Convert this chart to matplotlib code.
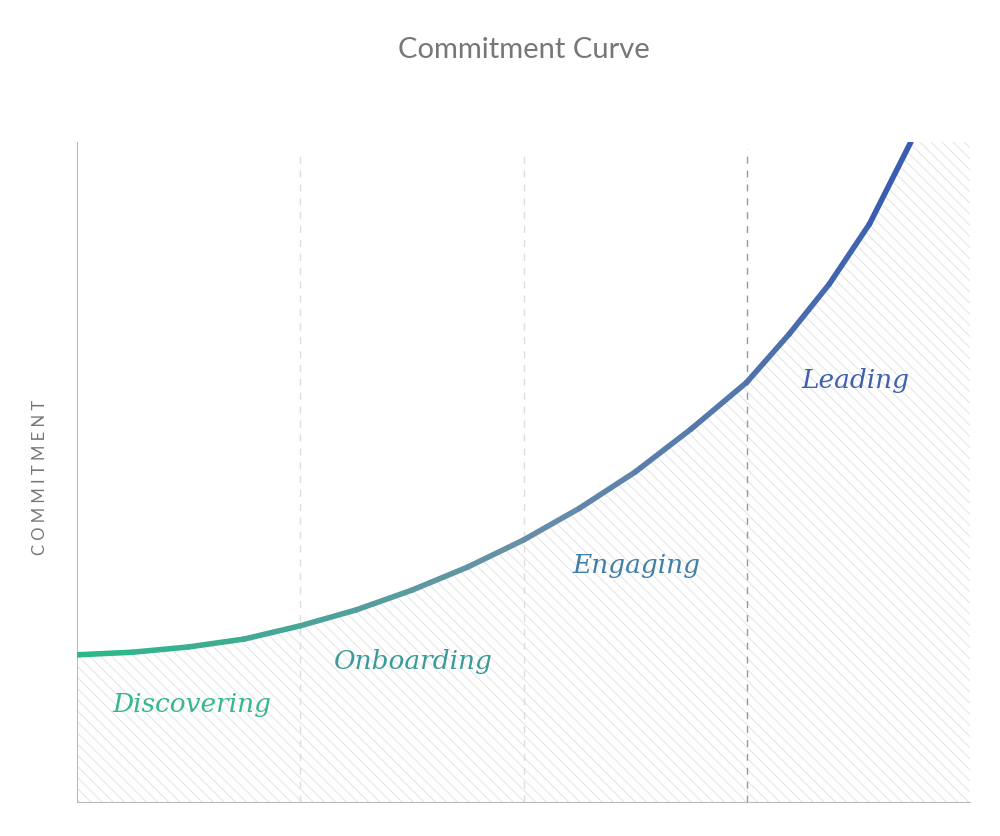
import numpy as np
import matplotlib
matplotlib.use("Agg")
import matplotlib.pyplot as plt
from matplotlib.collections import LineCollection
from matplotlib.colors import LinearSegmentedColormap

stage_x = [0, 0.25, 0.5, 0.75, 1, 1.25, 1.5, 1.75, 2, 2.25, 2.5, 2.75, 3, 3.19, 3.37, 3.55, 3.735]
commit_y = [22.3, 22.7, 23.5, 24.7, 26.7, 29.1, 32.1, 35.6, 39.7, 44.5, 50.0, 56.5, 63.6, 70.9, 78.5, 87.6, 100.0]
stages = ["Discovering", "Onboarding", "Engaging", "Leading"]
label_pos = [(0.515, 15), (1.505, 21.5), (2.504, 36), (3.485, 64)]
label_colors = ["#35b88c", "#3a9a9c", "#3f7fa8", "#3f5fb0"]

fig = plt.figure(figsize=(10, 8.37), dpi=100)
ax = fig.add_axes([0.077, 0.0406, 0.893, 0.7885])
ax.set_xlim(0, 4)
ax.set_ylim(0, 100)

fx = list(stage_x) + [4]
fy = list(commit_y) + [100]
plt.rcParams['hatch.linewidth'] = 0.8
ax.fill_between(fx, 0, fy, facecolor="none", edgecolor="#e6e6e6", hatch="\\\\\\", linewidth=0)

for i, x in enumerate([1, 2, 3]):
    ax.plot([x, x], [0, 98.9], ls=(0, (5, 5)), lw=1, color="#999999" if i == 2 else "#dddddd", zorder=1)

# smooth gradient line drawn segment by segment through read points
pts = np.array([stage_x, commit_y]).T.reshape(-1, 1, 2)
segs = np.concatenate([pts[:-1], pts[1:]], axis=1)
cmap = LinearSegmentedColormap.from_list("g", ["#2db88a", "#6a8fa8", "#3b5db0"])
lc = LineCollection(segs, cmap=cmap, linewidth=4, capstyle="round", joinstyle="round", zorder=3)
lc.set_array(np.linspace(0, 1, len(segs)))
ax.add_collection(lc)

for s, (x, y), c in zip(stages, label_pos, label_colors):
    ax.text(x, y, s, color=c, fontsize=19, style="italic", family="DejaVu Serif",
            ha="center", va="center")

for sp in ["top", "right"]:
    ax.spines[sp].set_visible(False)
for sp in ["left", "bottom"]:
    ax.spines[sp].set_color("#bbbbbb")
ax.set_xticks([]); ax.set_yticks([])

fig.text(0.524, 0.94, "Commitment Curve", ha="center", va="center", fontsize=21, color="#777777", family="Lato")
fig.text(0.04, 0.43, "C O M M I T M E N T", rotation=90, ha="center", va="center", fontsize=12, color="#777777", family="Lato")

fig.savefig("out.png", dpi=100)
